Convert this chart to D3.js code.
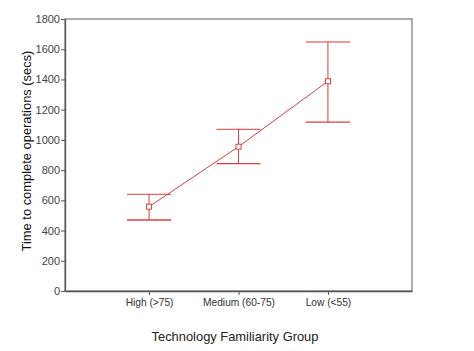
<!DOCTYPE html>
<html>
<head>
<meta charset="utf-8">
<script src="https://cdn.jsdelivr.net/npm/d3@7"></script>
<style>
  body { margin: 0; background: #fff; }
  svg { display: block; font-family: "Liberation Sans", Arial, sans-serif; }
</style>
</head>
<body>
<svg id="chart" width="474" height="351"></svg>
<script>
var groups = ["High (>75)", "Medium (60-75)", "Low (<55)"];
var means = [558, 955, 1388];
var upper = [640, 1070, 1648];
var lower = [470, 843, 1118];
var yTicks = [0, 200, 400, 600, 800, 1000, 1200, 1400, 1600, 1800];

var svg = d3.select("#chart");
var margin = {top: 19, right: 62, bottom: 60, left: 65};
var width = 474, height = 351;
var red = "#dc3c3c";

var data = groups.map(function (g, i) {
    return {group: g, mean: means[i], hi: upper[i], lo: lower[i]};
});

var x = d3.scalePoint()
    .domain(groups)
    .range([margin.left, width - margin.right])
    .padding(0.94);

var y = d3.scaleLinear()
    .domain([0, 1800])
    .range([height - margin.bottom, margin.top]);

// frame
svg.append("rect")
    .attr("x", margin.left)
    .attr("y", margin.top)
    .attr("width", width - margin.right - margin.left)
    .attr("height", height - margin.bottom - margin.top)
    .attr("fill", "none")
    .attr("stroke", "#777")
    .attr("stroke-width", 1.2);

var yAxis = d3.axisLeft(y).tickValues(yTicks).tickFormat(d3.format("d")).tickSize(4).tickSizeOuter(0);
var gy = svg.append("g")
    .attr("transform", "translate(" + margin.left + ",0)")
    .call(yAxis);
gy.select(".domain").attr("stroke", "#555").attr("stroke-width", 1.3);
gy.selectAll(".tick line").attr("stroke", "#555");
gy.selectAll(".tick text").attr("fill", "#444").attr("font-size", "11px").attr("x", -5);

var xAxis = d3.axisBottom(x).tickSize(4).tickSizeOuter(0);
var gx = svg.append("g")
    .attr("transform", "translate(0," + (height - margin.bottom) + ")")
    .call(xAxis);
gx.select(".domain").attr("stroke", "#555").attr("stroke-width", 1.3);
gx.selectAll(".tick line").attr("stroke", "#555");
gx.selectAll(".tick text").attr("fill", "#333").attr("font-size", "10.2px").attr("y", 8);

// error bars
var bars = svg.append("g").selectAll("g")
    .data(data)
    .enter()
    .append("g");

bars.append("line")
    .attr("x1", function (d) { return x(d.group); })
    .attr("x2", function (d) { return x(d.group); })
    .attr("y1", function (d) { return y(d.hi); })
    .attr("y2", function (d) { return y(d.lo); })
    .attr("stroke", red)
    .attr("stroke-width", 1);

bars.append("line")
    .attr("x1", function (d) { return x(d.group) - 22; })
    .attr("x2", function (d) { return x(d.group) + 22; })
    .attr("y1", function (d) { return y(d.hi); })
    .attr("y2", function (d) { return y(d.hi); })
    .attr("stroke", red)
    .attr("stroke-width", 1);

bars.append("line")
    .attr("x1", function (d) { return x(d.group) - 22; })
    .attr("x2", function (d) { return x(d.group) + 22; })
    .attr("y1", function (d) { return y(d.lo); })
    .attr("y2", function (d) { return y(d.lo); })
    .attr("stroke", red)
    .attr("stroke-width", 1.3);

// mean line
svg.append("path")
    .datum(data)
    .attr("d", d3.line()
        .x(function (d) { return x(d.group); })
        .y(function (d) { return y(d.mean); }))
    .attr("fill", "none")
    .attr("stroke", red)
    .attr("stroke-width", 1);

svg.append("g").selectAll("rect")
    .data(data)
    .enter()
    .append("rect")
    .attr("x", function (d) { return x(d.group) - 2.5; })
    .attr("y", function (d) { return y(d.mean) - 2.5; })
    .attr("width", 5)
    .attr("height", 5)
    .attr("fill", "#fff")
    .attr("stroke", red)
    .attr("stroke-width", 1);

// titles
svg.append("text")
    .attr("transform", "translate(31,151) rotate(-90)")
    .attr("text-anchor", "middle")
    .attr("font-size", "12.9px")
    .attr("fill", "#111")
    .text("Time to complete operations (secs)");

svg.append("text")
    .attr("x", 235)
    .attr("y", 341)
    .attr("text-anchor", "middle")
    .attr("font-size", "12.9px")
    .attr("fill", "#222")
    .text("Technology Familiarity Group");
</script>
</body>
</html>
